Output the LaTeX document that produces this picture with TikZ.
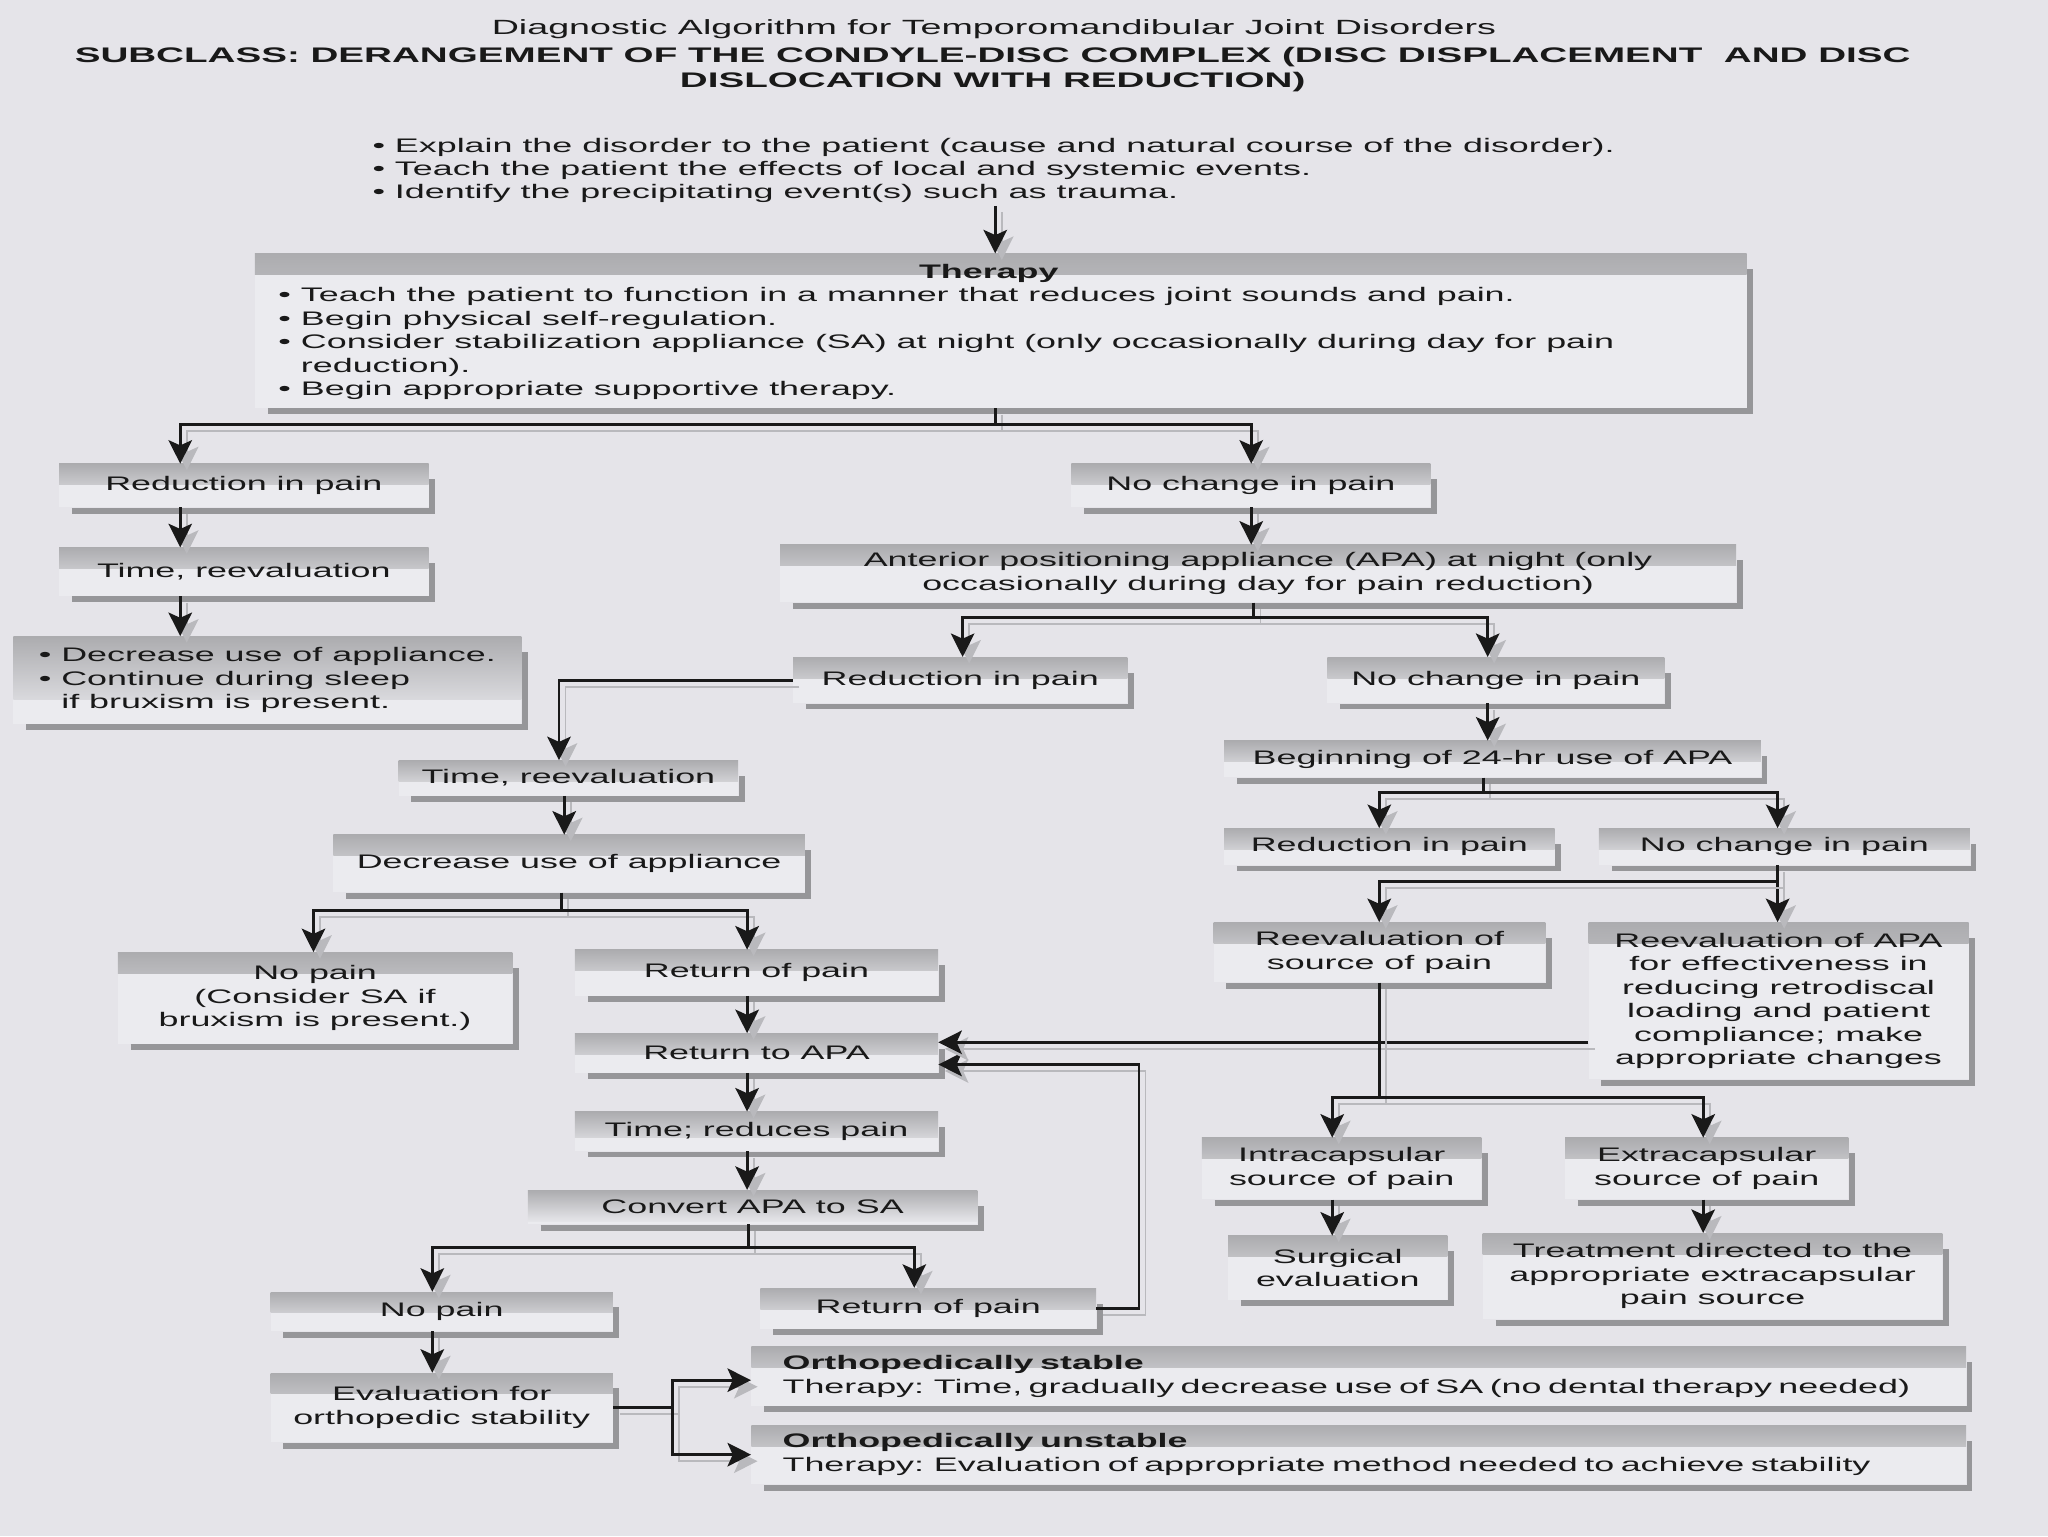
\documentclass[tikz,border=0pt]{standalone}
\usepackage{fontspec}
\setmainfont{Liberation Sans}[FakeStretch=1.83]
\usetikzlibrary{arrows.meta}
\definecolor{bgc}{RGB}{229,228,233}
\definecolor{boxc}{RGB}{235,235,239}
\definecolor{shadec}{RGB}{172,172,175}
\definecolor{bandc}{RGB}{150,150,153}
\definecolor{lshc}{RGB}{185,185,189}
\definecolor{inkc}{RGB}{25,25,25}
\tikzset{
  fs/.style={font=\fontsize{15}{18}\selectfont},
  shh/.store in=\shh, shh=16pt,
  bx/.style={fs, fill=boxc, text=inkc, align=center, inner sep=2pt, anchor=north west,
    path picture={\shade[top color=shadec, bottom color=boxc]
      (path picture bounding box.north west) rectangle ([yshift=-\shh]path picture bounding box.north east);}},
  band/.style={draw=bandc, line width=4.5pt},
  ln/.style={draw=inkc, line width=2.2pt},
  arr/.style={ln, -{Stealth[length=18pt,width=18pt,inset=4pt]},
    preaction={draw=lshc, line width=1.4pt, transform canvas={xshift=5pt,yshift=-5pt}}},
}
\begin{document}
\begin{tikzpicture}[x=1pt,y=-1pt]
\fill[bgc] (0,0) rectangle (1568,1176);
\useasboundingbox (0,0) rectangle (1568,1176);

% titles
\node[text=inkc, font=\fontsize{15.75}{18}\selectfont] (ti1) at (761,22) {Diagnostic Algorithm for Temporomandibular Joint Disorders};
\node[text=inkc, font=\bfseries\fontsize{16.15}{18}\selectfont] (ti2) at (760,43.5) {SUBCLASS: DERANGEMENT OF THE CONDYLE-DISC COMPLEX (DISC DISPLACEMENT\ \ AND DISC};
\node[text=inkc, font=\bfseries\fontsize{16.15}{18}\selectfont] (ti3) at (760,62.5) {DISLOCATION WITH REDUCTION)};

% top bullets
\node[fs, text=inkc, align=left, anchor=north west, inner sep=2pt, font=\fontsize{15}{17.6}\selectfont] (tb) at (283,104)
 {• Explain the disorder to the patient (cause and natural course of the disorder).\\
  • Teach the patient the effects of local and systemic events.\\
  • Identify the precipitating event(s) such as trauma.};

% therapy
\node[bx, minimum width=1142, minimum height=118] (th) at (195,194) {};
\node[fs, text=inkc, font=\bfseries\fontsize{15}{18}\selectfont] (thh) at (757,209) {Therapy};
\node[fs, text=inkc, align=left, anchor=north west, inner sep=0pt] (thb) at (213,220)
 {• Teach the patient to function in a manner that reduces joint sounds and pain.\\
  • Begin physical self-regulation.\\
  • Consider stabilization appliance (SA) at night (only occasionally during day for pain\\
  \phantom{• }reduction).\\
  • Begin appropriate supportive therapy.};

% left column
\node[bx, minimum width=283, minimum height=33] (r1) at (45,355) {Reduction in pain};
\node[bx, minimum width=283, minimum height=37] (t1) at (45,419) {Time, reevaluation};
\node[bx, shh=48pt, minimum width=389, minimum height=67, align=left] (d1) at (10,487)
 {• Decrease use of appliance.\\ • Continue during sleep\\ \phantom{• }if bruxism is present.};

% right branch
\node[bx, minimum width=275, minimum height=33] (n1) at (820,355) {No change in pain};
\node[bx, minimum width=732, minimum height=44] (apa) at (597,417)
 {Anterior positioning appliance (APA) at night (only\\occasionally during day for pain reduction)};
\node[bx, minimum width=256, minimum height=35] (r2) at (607,503) {Reduction in pain};
\node[bx, minimum width=258, minimum height=35] (n2) at (1016,503) {No change in pain};

\node[bx, minimum width=260, minimum height=27] (t2) at (305,582) {Time, reevaluation};
\node[bx, minimum width=361, minimum height=44] (dc) at (255,639) {Decrease use of appliance};
\node[bx, minimum width=302, minimum height=70] (np1) at (90,729) {No pain\\(Consider SA if\\bruxism is present.)};
\node[bx, minimum width=278, minimum height=35] (rp1) at (440,727) {Return of pain};
\node[bx, minimum width=278, minimum height=30] (ra) at (440,791) {Return to APA};
\node[bx, shh=20pt, minimum width=278, minimum height=30] (tr) at (440,851) {Time; reduces pain};
\node[bx, shh=24pt, minimum width=344, minimum height=26] (cv) at (404,911) {Convert APA to SA};
\node[bx, minimum width=262, minimum height=30] (np2) at (207,989) {No pain};
\node[bx, minimum width=257, minimum height=31] (rp2) at (582,986) {Return of pain};
\node[bx, minimum width=262, minimum height=53] (ev) at (207,1051) {Evaluation for\\orthopedic stability};
\node[bx, minimum width=930, minimum height=45, align=left, text width=882, inner xsep=24pt] (st) at (575,1031)
 {\textbf{Orthopedically stable}\\Therapy: Time, gradually decrease use of SA (no dental therapy needed)};
\node[bx, minimum width=930, minimum height=45, align=left, text width=882, inner xsep=24pt] (us) at (575,1091)
 {\textbf{Orthopedically unstable}\\Therapy: Evaluation of appropriate method needed to achieve stability};

% far right
\node[bx, minimum width=411, minimum height=28] (bg) at (937,567) {Beginning of 24-hr use of APA};
\node[bx, minimum width=253, minimum height=28] (r3) at (937,634) {Reduction in pain};
\node[bx, minimum width=284, minimum height=28] (n3) at (1224,634) {No change in pain};
\node[bx, minimum width=254, minimum height=46] (rs) at (929,706) {Reevaluation of\\source of pain};
\node[bx, minimum width=291, minimum height=120] (rea) at (1216,706)
 {Reevaluation of APA\\for effectiveness in\\reducing retrodiscal\\loading and patient\\compliance; make\\appropriate changes};
\node[bx, minimum width=214, minimum height=47] (ic) at (920,871) {Intracapsular\\source of pain};
\node[bx, minimum width=217, minimum height=47] (ec) at (1198,871) {Extracapsular\\source of pain};
\node[bx, minimum width=168, minimum height=49] (se) at (940,946) {Surgical\\evaluation};
\node[bx, minimum width=352, minimum height=66] (tds) at (1135,944) {Treatment directed to the\\appropriate extracapsular\\pain source};

% shadow bands
\foreach \n in {th,r1,t1,d1,n1,apa,r2,n2,t2,dc,np1,rp1,ra,tr,cv,np2,rp2,ev,st,us,bg,r3,n3,rs,rea,ic,ec,se,tds}
  \draw[band] ([xshift=10pt,yshift=-2.5pt]\n.south west) -- ([xshift=2.5pt,yshift=-2.5pt]\n.south east) -- ([xshift=2.5pt,yshift=-12pt]\n.north east);

% column coordinates
\coordinate (cA) at (138,0);
\coordinate (cT) at (762,0);
\coordinate (cB) at (958,0);
\coordinate (cC) at (737,0);
\coordinate (cD) at (1139,0);
\coordinate (cE) at (428,0);
\coordinate (cE2) at (432,0);
\coordinate (cF) at (240,0);
\coordinate (cG) at (572,0);
\coordinate (cH) at (331,0);
\coordinate (cI) at (700,0);
\coordinate (cJ) at (1056,0);
\coordinate (cK) at (1361,0);
\coordinate (cL) at (1020,0);
\coordinate (cM) at (1304,0);
\coordinate (j1) at (762,325);
\coordinate (j2) at (960,473);
\coordinate (j3) at (430,697);
\coordinate (j4) at (573,955);
\coordinate (j5) at (515,1079);
\coordinate (j6) at (1136,607);
\coordinate (j7) at (1361,675);
\coordinate (j8) at (1056,840);
\coordinate (lp) at (872,815);
\coordinate (hz) at (0,798);

% connectors
\draw[arr] (tb.south -| cT) -- (th.north -| cT);
\draw[arr] (th.south -| j1) -- (j1) -| (r1.north -| cA);
\draw[arr] (j1) -| (n1.north -| cB);
\draw[arr] (r1.south -| cA) -- (t1.north -| cA);
\draw[arr] (t1.south -| cA) -- (d1.north -| cA);
\draw[arr] (n1.south -| cB) -- (apa.north -| cB);
\draw[arr] (apa.south -| j2) -- (j2) -| (r2.north -| cC);
\draw[arr] (j2) -| (n2.north -| cD);
\draw[arr] (r2.west) -| (t2.north -| cE);
\draw[arr] (t2.south -| cE2) -- (dc.north -| cE2);
\draw[arr] (dc.south -| j3) -- (j3) -| (np1.north -| cF);
\draw[arr] (j3) -| (rp1.north -| cG);
\draw[arr] (rp1.south -| cG) -- (ra.north -| cG);
\draw[arr] (ra.south -| cG) -- (tr.north -| cG);
\draw[arr] (tr.south -| cG) -- (cv.north -| cG);
\draw[arr] (cv.south -| j4) -- (j4) -| (np2.north -| cH);
\draw[arr] (j4) -| (rp2.north -| cI);
\draw[arr] (rp2.east) -| (lp) -- (lp -| ra.east);
\draw[arr] (rea.west |- hz) -- (hz -| ra.east);
\draw[arr] (np2.south -| cH) -- (ev.north -| cH);
\draw[arr] (ev.east) -- (ev.east -| j5) |- ([yshift=-3pt]st.west);
\draw[arr] (ev.east -| j5) |- (us.west);
\draw[arr] (n2.south -| cD) -- (bg.north -| cD);
\draw[arr] (bg.south -| j6) -- (j6) -| (r3.north -| cJ);
\draw[arr] (j6) -| (n3.north -| cK);
\draw[arr] (n3.south -| cK) -- (rea.north -| cK);
\draw[arr] (j7) -| (rs.north -| cJ);
\draw[arr] (rs.south -| j8) -- (j8) -| (ic.north -| cL);
\draw[arr] (j8) -| (ec.north -| cM);
\draw[arr] (ic.south -| cL) -- (se.north -| cL);
\draw[arr] (ec.south -| cM) -- (tds.north -| cM);
\end{tikzpicture}
\end{document}
